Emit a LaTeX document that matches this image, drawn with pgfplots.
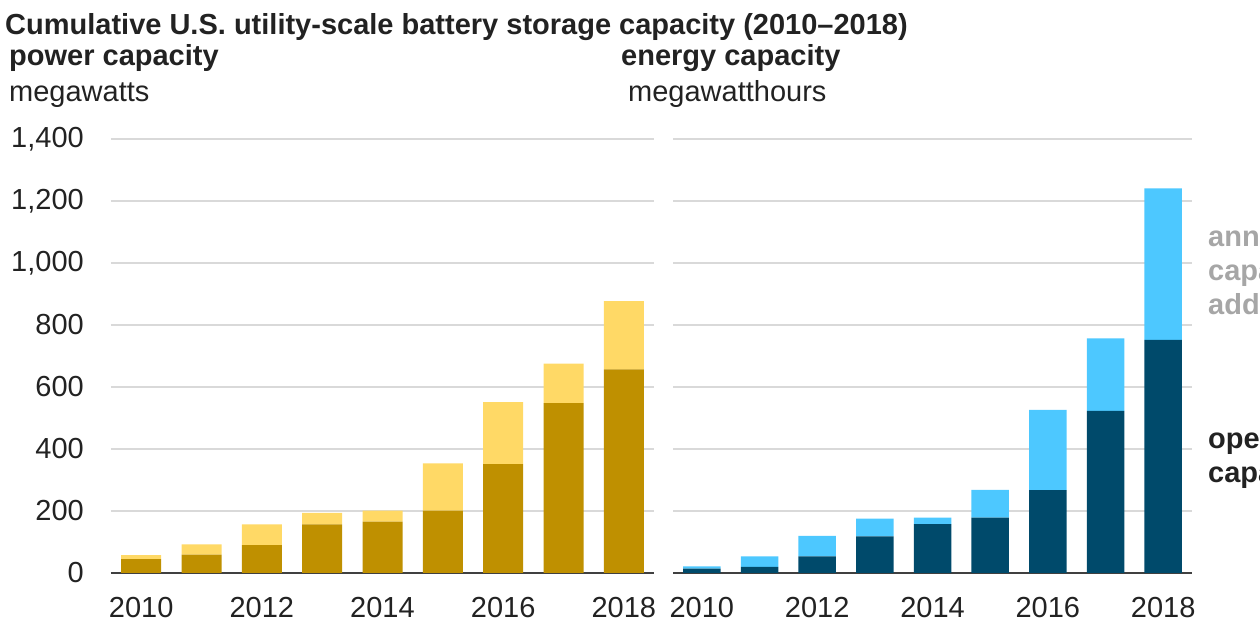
\documentclass[border=0pt]{standalone}
\usepackage{pgfplots}
\pgfplotsset{compat=1.18}
\usepackage{fontspec}
\setmainfont{Liberation Sans}
\definecolor{gold}{HTML}{BF9000}
\definecolor{lgold}{HTML}{FFD966}
\definecolor{navy}{HTML}{004A6B}
\definecolor{sky}{HTML}{4DC8FF}
\definecolor{txt}{HTML}{222222}
\definecolor{gridc}{HTML}{D9D9D9}
\definecolor{annc}{HTML}{A6A6A6}
\newcommand{\F}{\fontsize{29}{34}\selectfont}
\pgfplotsset{
 base/.style={
  scale only axis, height=434pt, ymin=0, ymax=1400, xmin=2009.5, xmax=2018.5,
  ytick={0,200,...,1400},
  ymajorgrids, grid style={draw=gridc, line width=2pt},
  axis x line*=bottom, axis y line*=left,
  x axis line style={draw=black!75, line width=2.5pt, -},
  y axis line style={draw=none},
  major tick length=0pt,
  xtick={2010,2012,2014,2016,2018},
  xticklabels={2010,2012,2014,2016,2018},
  xticklabel style={anchor=base, yshift=-45pt, inner sep=0pt, font=\F, text=txt},
  ybar stacked,
  anchor=south west,
  every axis plot/.append style={draw=none},
 }
}
\begin{document}
\begin{tikzpicture}[x=1pt,y=1pt]
\useasboundingbox (0,0) rectangle (1260,628);
\clip (0,0) rectangle (1260,628);
\begin{axis}[base, at={(111pt,55pt)}, width=543pt, bar width=40pt,
  yticklabels={0,200,400,600,800,{1,000},{1,200},{1,400}},
  yticklabel style={anchor=east, inner sep=0pt, xshift=-27pt, font=\F, text=txt}]
\addplot[fill=gold] coordinates {(2010,45) (2011,59) (2012,90) (2013,157) (2014,166) (2015,201) (2016,351) (2017,548) (2018,657)};
\addplot[fill=lgold] coordinates {(2010,13) (2011,33) (2012,67) (2013,37) (2014,35) (2015,153) (2016,200) (2017,127) (2018,220)};
\end{axis}
\begin{axis}[base, at={(673pt,55pt)}, width=519pt, bar width=37.5pt, yticklabels={}]
\addplot[fill=navy] coordinates {(2010,14) (2011,20) (2012,54) (2013,118) (2014,158) (2015,179) (2016,267) (2017,523) (2018,752)};
\addplot[fill=sky] coordinates {(2010,7) (2011,34) (2012,66) (2013,57) (2014,21) (2015,89) (2016,259) (2017,234) (2018,489)};
\end{axis}
\begin{scope}[every node/.style={inner sep=0pt, anchor=base west, font=\F, text=txt}]
\node at (5,593) {\bfseries Cumulative U.S. utility-scale battery storage capacity (2010--2018)};
\node at (9,562) {\bfseries power capacity};
\node at (9,526) {megawatts};
\node at (621,562) {\bfseries energy capacity};
\node at (628,526) {megawatthours};
\node[text=annc] at (1208,381) {\bfseries annual};
\node[text=annc] at (1208,347) {\bfseries capacity};
\node[text=annc] at (1208,313) {\bfseries additions};
\node at (1208,179) {\bfseries operating};
\node at (1208,145) {\bfseries capacity};
\end{scope}
\end{tikzpicture}
\end{document}
